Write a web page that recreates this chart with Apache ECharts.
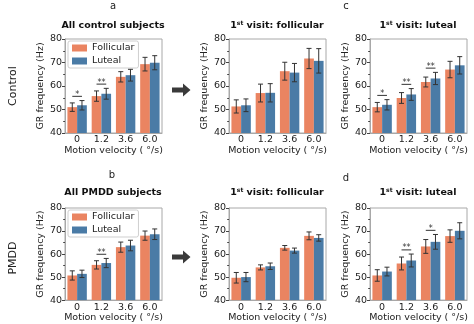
<!DOCTYPE html>
<html>
<head>
<meta charset="utf-8">
<script src="https://cdn.jsdelivr.net/npm/echarts@6/dist/echarts.min.js"></script>
<style>
  html, body { margin: 0; padding: 0; background: #fff; }
  #chart { width: 474px; height: 324px; }
</style>
</head>
<body>
<div id="chart"></div>
<script>
// Motion velocity categories and y-axis ticks (Hz)
const velocities = ['0', '1.2', '3.6', '6.0'];
const yTicks = [40, 50, 60, 70, 80];

// Control, all subjects
const ctrlAllFol = [51.0, 55.7, 63.9, 69.3];
const ctrlAllFolErr = [1.8, 2.2, 2.2, 2.9];
const ctrlAllLut = [51.8, 56.7, 64.6, 69.9];
const ctrlAllLutErr = [2.0, 2.3, 2.5, 3.0];
const ctrlAllSig = ['*', '**', '', ''];

// Control, 1st visit follicular
const ctrlFolFirstFol = [51.3, 57.0, 66.3, 71.7];
const ctrlFolFirstFolErr = [2.8, 3.8, 3.8, 4.3];
const ctrlFolFirstLut = [51.8, 57.1, 65.7, 70.7];
const ctrlFolFirstLutErr = [2.7, 3.9, 3.9, 5.2];
const ctrlFolFirstSig = ['', '', '', ''];

// Control, 1st visit luteal
const ctrlLutFirstFol = [51.0, 54.9, 61.7, 67.0];
const ctrlLutFirstFolErr = [2.0, 2.3, 2.1, 3.5];
const ctrlLutFirstLut = [52.0, 56.4, 63.2, 68.8];
const ctrlLutFirstLutErr = [2.2, 2.5, 2.6, 3.7];
const ctrlLutFirstSig = ['*', '**', '**', ''];

// PMDD, all subjects
const pmddAllFol = [50.7, 55.3, 63.0, 68.0];
const pmddAllFolErr = [2.0, 1.8, 2.2, 2.0];
const pmddAllLut = [51.4, 56.1, 63.7, 68.6];
const pmddAllLutErr = [1.6, 2.0, 2.3, 2.3];
const pmddAllSig = ['', '**', '', ''];

// PMDD, 1st visit follicular
const pmddFolFirstFol = [49.7, 54.2, 62.7, 67.9];
const pmddFolFirstFolErr = [2.3, 1.1, 1.0, 1.7];
const pmddFolFirstLut = [50.0, 54.7, 61.5, 67.0];
const pmddFolFirstLutErr = [2.0, 1.4, 1.1, 1.4];
const pmddFolFirstSig = ['', '', '', ''];

// PMDD, 1st visit luteal
const pmddLutFirstFol = [50.7, 55.9, 63.3, 67.8];
const pmddLutFirstFolErr = [2.5, 2.8, 3.0, 2.7];
const pmddLutFirstLut = [52.4, 57.2, 65.3, 70.1];
const pmddLutFirstLutErr = [1.9, 2.8, 3.2, 3.5];
const pmddLutFirstSig = ['', '**', '*', ''];

const panels = [
  { fol: ctrlAllFol, folErr: ctrlAllFolErr, lut: ctrlAllLut, lutErr: ctrlAllLutErr, sig: ctrlAllSig },
  { fol: ctrlFolFirstFol, folErr: ctrlFolFirstFolErr, lut: ctrlFolFirstLut, lutErr: ctrlFolFirstLutErr, sig: ctrlFolFirstSig },
  { fol: ctrlLutFirstFol, folErr: ctrlLutFirstFolErr, lut: ctrlLutFirstLut, lutErr: ctrlLutFirstLutErr, sig: ctrlLutFirstSig },
  { fol: pmddAllFol, folErr: pmddAllFolErr, lut: pmddAllLut, lutErr: pmddAllLutErr, sig: pmddAllSig },
  { fol: pmddFolFirstFol, folErr: pmddFolFirstFolErr, lut: pmddFolFirstLut, lutErr: pmddFolFirstLutErr, sig: pmddFolFirstSig },
  { fol: pmddLutFirstFol, folErr: pmddLutFirstFolErr, lut: pmddLutFirstLut, lutErr: pmddLutFirstLutErr, sig: pmddLutFirstSig }
];

const FONT = 'DejaVu Sans';
const ORANGE = '#EA8461';
const BLUE = '#4A7BA6';
const INK = '#222';
const FRAME = '#a8a8a8';

const colLeft = [65, 229, 370];
const rowTop = [39, 208];
const plotW = 97, plotH = 94;

const grids = [], xAxes = [], yAxes = [], series = [];

panels.forEach((p, i) => {
  const col = i % 3, row = Math.floor(i / 3);
  grids.push({
    left: colLeft[col], top: rowTop[row], width: plotW, height: plotH,
    show: true, borderColor: FRAME, borderWidth: 1, backgroundColor: 'transparent'
  });
  xAxes.push({
    type: 'category', gridIndex: i, data: velocities,
    axisLine: { lineStyle: { color: FRAME } },
    axisTick: { alignWithLabel: true, length: 2.5, lineStyle: { color: '#444' } },
    axisLabel: { fontFamily: FONT, fontSize: 9.5, color: INK, margin: 2 },
    name: 'Motion velocity ( \u00B0/s)', nameLocation: 'middle', nameGap: 10,
    nameTextStyle: { fontFamily: FONT, fontSize: 9.5, color: INK }
  });
  yAxes.push({
    type: 'value', gridIndex: i, min: yTicks[0], max: yTicks[yTicks.length - 1], interval: 10,
    splitLine: { show: false },
    axisLine: { show: true, lineStyle: { color: FRAME } },
    axisTick: { show: true, length: 3, lineStyle: { color: '#444' } },
    minorTick: { show: true, splitNumber: 2, length: 1.8, lineStyle: { color: '#444' } },
    axisLabel: { fontFamily: FONT, fontSize: 9.5, color: INK, margin: 3 },
    name: 'GR frequency (Hz)', nameLocation: 'middle', nameGap: 17, nameRotate: 90,
    nameTextStyle: { fontFamily: FONT, fontSize: 9.5, color: INK }
  });

  series.push({
    name: 'Follicular', type: 'bar', xAxisIndex: i, yAxisIndex: i,
    data: p.fol, barGap: '0%', barCategoryGap: '20%',
    itemStyle: { color: ORANGE }, silent: true
  });
  series.push({
    name: 'Luteal', type: 'bar', xAxisIndex: i, yAxisIndex: i,
    data: p.lut, barGap: '0%', barCategoryGap: '20%',
    itemStyle: { color: BLUE }, silent: true
  });

  // Error bars: [category, mean, err, side(-1 follicular, +1 luteal)]
  const errData = [];
  velocities.forEach((v, c) => {
    errData.push([c, p.fol[c], p.folErr[c], -1]);
    errData.push([c, p.lut[c], p.lutErr[c], 1]);
  });
  series.push({
    type: 'custom', xAxisIndex: i, yAxisIndex: i, z: 5, silent: true,
    encode: { x: 0, y: 1 },
    data: errData,
    renderItem: function (params, api) {
      const c = api.value(0), m = api.value(1), e = api.value(2), side = api.value(3);
      const bw = api.size([1, 0])[0];
      const x = api.coord([c, m])[0] + side * bw * 0.2;
      const yt = api.coord([c, m + e])[1];
      const yb = api.coord([c, m - e])[1];
      const cap = 2.5;
      const st = { stroke: '#333', lineWidth: 1 };
      return {
        type: 'group',
        children: [
          { type: 'line', shape: { x1: x, y1: yt, x2: x, y2: yb }, style: st },
          { type: 'line', shape: { x1: x - cap, y1: yt, x2: x + cap, y2: yt }, style: st },
          { type: 'line', shape: { x1: x - cap, y1: yb, x2: x + cap, y2: yb }, style: st }
        ]
      };
    }
  });

  // Significance brackets above the taller error bar
  const sigData = [];
  p.sig.forEach((s, c) => {
    if (s) {
      const top = Math.max(p.fol[c] + p.folErr[c], p.lut[c] + p.lutErr[c]);
      sigData.push([c, top + 1.8, c]);
    }
  });
  const sigText = p.sig;
  series.push({
    type: 'custom', xAxisIndex: i, yAxisIndex: i, z: 6, silent: true,
    encode: { x: 0, y: 1 },
    data: sigData,
    renderItem: function (params, api) {
      const c = api.value(0), yv = api.value(1);
      const bw = api.size([1, 0])[0];
      const pt = api.coord([c, yv]);
      const x1 = pt[0] - bw * 0.2, x2 = pt[0] + bw * 0.2;
      return {
        type: 'group',
        children: [
          { type: 'line', shape: { x1: x1, y1: pt[1], x2: x2, y2: pt[1] },
            style: { stroke: '#333', lineWidth: 1 } },
          { type: 'text', x: pt[0], y: pt[1] - 1.5,
            style: { text: sigText[api.value(2)], fill: '#333',
                     font: '8px ' + FONT, align: 'center', verticalAlign: 'middle' } }
        ]
      };
    }
  });
});

const legendBase = {
  orient: 'vertical', left: 68, itemWidth: 15, itemHeight: 7, itemGap: 3,
  padding: [2, 4, 2, 4], borderColor: '#cfcfcf', borderWidth: 1, borderRadius: 2,
  backgroundColor: 'rgba(255,255,255,0.85)', icon: 'rect',
  textStyle: { fontFamily: FONT, fontSize: 9.5, color: INK, lineHeight: 10 },
  data: ['Follicular', 'Luteal'], selectedMode: false
};

const titleFont = 'bold 9.5px ' + FONT;
function title(text, x, y) {
  return {
    type: 'text', x: x, y: y, silent: true,
    style: {
      text: text, font: titleFont, fill: '#111', align: 'center', verticalAlign: 'middle',
      rich: {
        b: { fontFamily: FONT, fontWeight: 'bold', fontSize: 9.5, fill: '#111', lineHeight: 12 },
        sup: { fontFamily: FONT, fontWeight: 'bold', fontSize: 6, fill: '#111', verticalAlign: 'top' }
      }
    }
  };
}
function plain(text, x, y, size, rot) {
  return {
    type: 'text', x: x, y: y, rotation: rot || 0, silent: true,
    style: { text: text, font: size + 'px ' + FONT, fill: INK, align: 'center', verticalAlign: 'middle' }
  };
}
function arrow(x0, y0) {
  return {
    type: 'polygon', silent: true,
    shape: { points: [
      [x0, y0 - 2.5], [x0 + 11, y0 - 2.5], [x0 + 11, y0 - 6.5], [x0 + 18.5, y0],
      [x0 + 11, y0 + 6.5], [x0 + 11, y0 + 2.5], [x0, y0 + 2.5]
    ] },
    style: { fill: '#3a3a3a' }
  };
}

const option = {
  animation: false,
  backgroundColor: '#fff',
  grid: grids,
  xAxis: xAxes,
  yAxis: yAxes,
  legend: [
    Object.assign({}, legendBase, { top: 41 }),
    Object.assign({}, legendBase, { top: 210 })
  ],
  series: series,
  graphic: [
    plain('a', 113, 6, 10),
    plain('c', 346, 6, 10),
    plain('b', 112, 175, 10),
    plain('d', 346, 178, 10),
    title('{b|All control subjects}', 113, 26),
    title('{b|1}{sup|st}{b| visit: follicular}', 277, 26),
    title('{b|1}{sup|st}{b| visit: luteal}', 418, 26),
    title('{b|All PMDD subjects}', 113, 193),
    title('{b|1}{sup|st}{b| visit: follicular}', 277, 193),
    title('{b|1}{sup|st}{b| visit: luteal}', 418, 193),
    plain('Control', 13, 86, 11, Math.PI / 2),
    plain('PMDD', 13, 258, 11, Math.PI / 2),
    arrow(172, 90),
    arrow(172, 257)
  ]
};

echarts.init(document.getElementById('chart')).setOption(option);
</script>
</body>
</html>
